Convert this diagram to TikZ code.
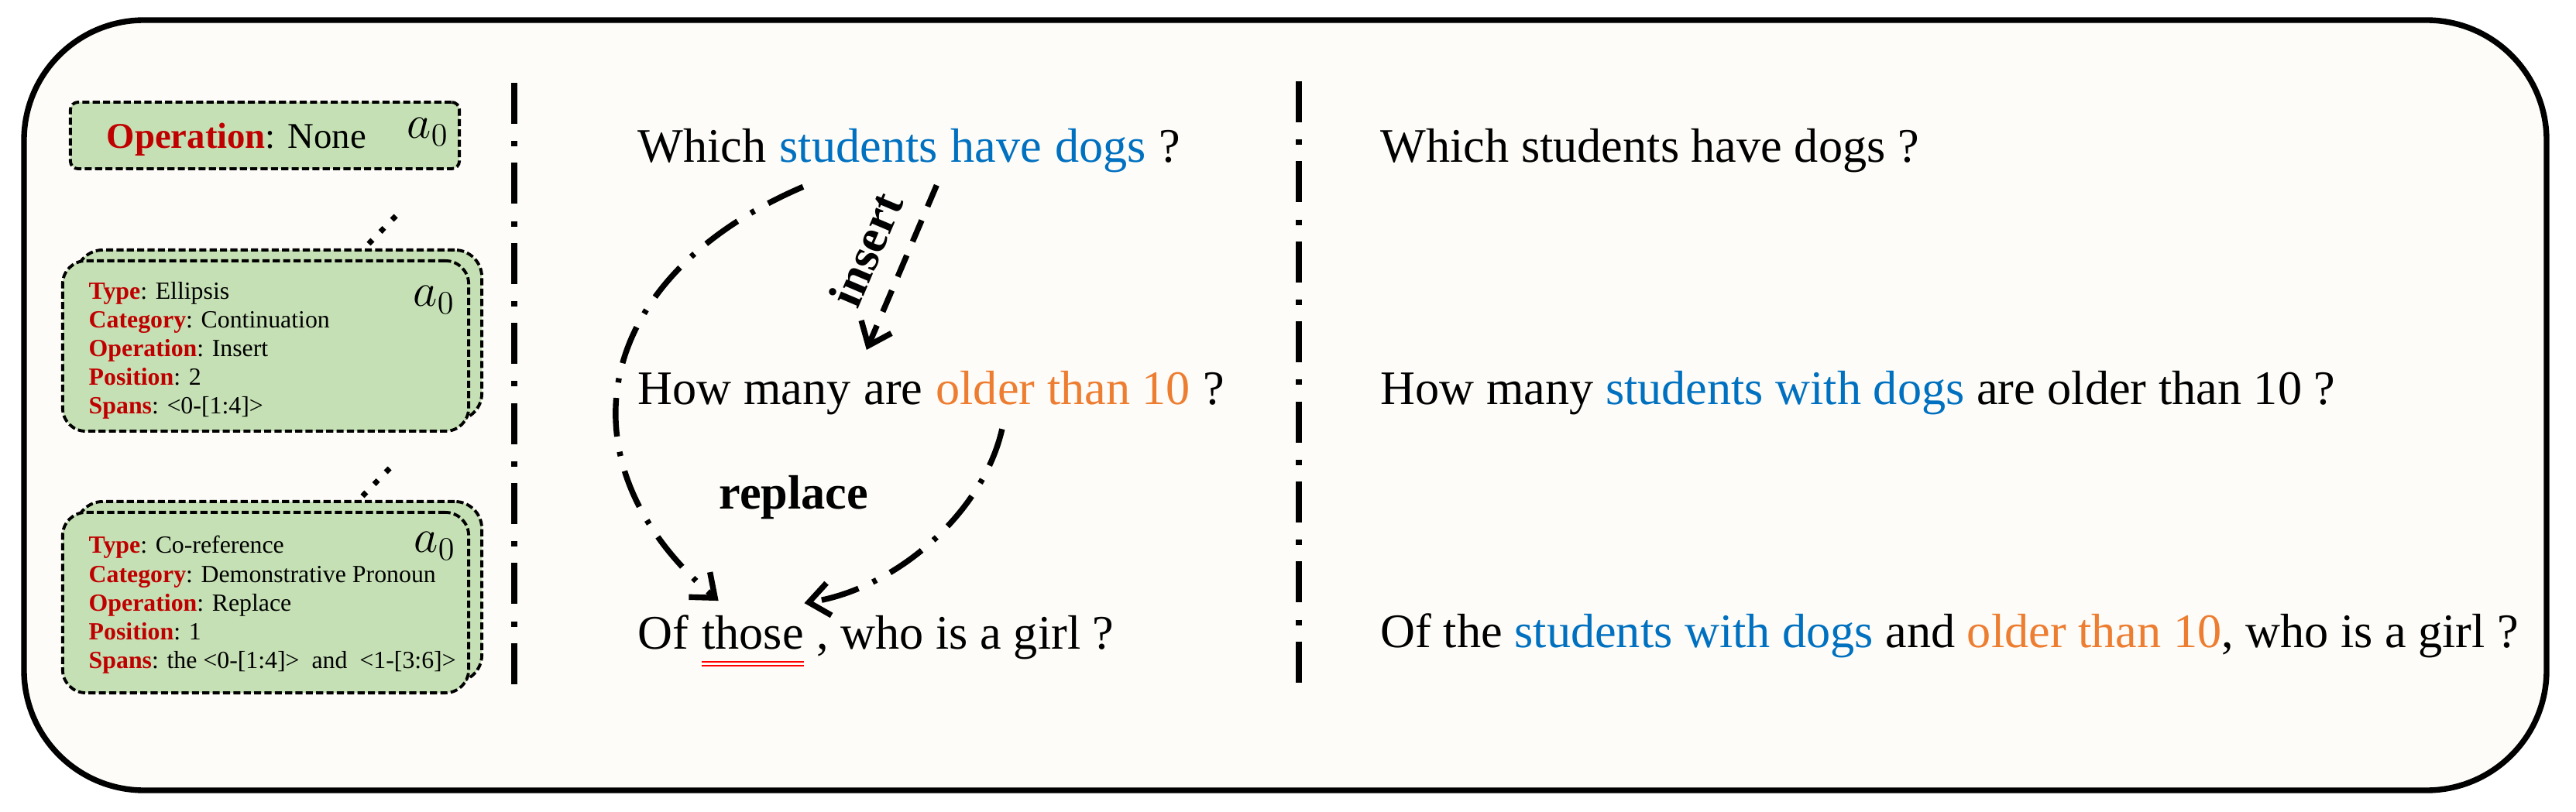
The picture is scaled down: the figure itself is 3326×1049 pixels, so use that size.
\documentclass[tikz,border=0pt]{standalone}
\usepackage{fontspec}
\setmainfont{Liberation Serif}
\usetikzlibrary{arrows.meta,calc}
\definecolor{frameBg}{RGB}{253,252,248}
\definecolor{boxGreen}{RGB}{197,224,180}
\definecolor{lblRed}{RGB}{192,0,0}
\definecolor{qBlue}{RGB}{0,112,192}
\definecolor{qOrange}{RGB}{237,125,49}
\newcommand{\lb}[1]{\textcolor{lblRed}{\textbf{#1}}}
\def\wg{4.43pt}
\begin{document}
\begin{tikzpicture}[x=0.01cm,y=-0.01cm,
  frame/.style={draw=black,line width=2.1pt,fill=frameBg,rounded corners=1.55cm},
  greenbox/.style={draw=black,fill=boxGreen,line width=1.1pt,dash pattern=on 2.6pt off 1.2pt,inner sep=0},
  sent/.style={inner sep=0,anchor=base west,font=\fontsize{17.7}{21}\selectfont},
  boldlbl/.style={inner sep=0,font=\fontsize{17.7}{21}\selectfont\bfseries},
  boxtxt/.style={inner sep=0,anchor=base west,font=\fontsize{9.05}{11}\selectfont},
  optxt/.style={inner sep=0,anchor=base west,font=\fontsize{13.3}{16}\selectfont},
  asym/.style={inner sep=0,anchor=base west,font=\fontsize{18.5}{21}\selectfont},
  sepline/.style={line width=2.3pt,dash pattern=on 15.1pt off 6.3pt on 2pt off 6pt},
  insarrow/.style={line width=2.1pt,dash pattern=on 8.5pt off 5.5pt,-{Straight Barb[length=7.5pt,width=12pt]}},
  rplarrow/.style={line width=2.1pt,dash pattern=on 14.2pt off 5.7pt on 1.6pt off 5.7pt,-{Straight Barb[length=7.5pt,width=12pt]}},
  dotlink/.style={line width=2pt,dash pattern=on 2pt off 4.15pt},
]
\useasboundingbox (0,0) rectangle (3326,1049);
\path[frame] (31,26) rectangle (3288,1021);

% ---- left column: action boxes
\node[greenbox,rounded corners=0.1cm,minimum width=5.02cm,minimum height=0.86cm] (b0) at (342,175) {};
\node[optxt] (b0t) at (137,192) {\lb{Operation}: None};
\node[asym] (b0a) at (525,179) {$a_0$};

\node[greenbox,rounded corners=0.35cm,minimum width=5.24cm,minimum height=2.2cm] (s1back) at (360,433) {};
\node[greenbox,rounded corners=0.3cm,minimum width=5.24cm,minimum height=2.2cm] (s1) at (343,447) {};
\node[boxtxt] (s1l1) at (114,387) {\lb{Type}: Ellipsis};
\node[boxtxt] (s1l2) at (114,424) {\lb{Category}: Continuation};
\node[boxtxt] (s1l3) at (114,461) {\lb{Operation}: Insert};
\node[boxtxt] (s1l4) at (114,498) {\lb{Position}: 2};
\node[boxtxt] (s1l5) at (114,535) {\lb{Spans}: <0-[1:4]>};
\node[asym] (s1a) at (533,396) {$a_0$};

\node[greenbox,rounded corners=0.35cm,minimum width=5.24cm,minimum height=2.33cm] (s2back) at (360,764.5) {};
\node[greenbox,rounded corners=0.3cm,minimum width=5.24cm,minimum height=2.33cm] (s2) at (343,778.5) {};
\node[boxtxt] (s2l1) at (114,715) {\lb{Type}: Co-reference};
\node[boxtxt] (s2l2) at (114,752) {\lb{Category}: Demonstrative Pronoun};
\node[boxtxt] (s2l3) at (114,789) {\lb{Operation}: Replace};
\node[boxtxt] (s2l4) at (114,826) {\lb{Position}: 1};
\node[boxtxt] (s2l5) at (114,863) {\lb{Spans}: the <0-[1:4]>\ \ and\ \ <1-[3:6]>};
\node[asym] (s2a) at (534,714) {$a_0$};

\coordinate (d1s) at (476,315);
\coordinate (d1e) at (513,277);
\draw[dotlink] (d1s) -- (d1e);
\coordinate (d2s) at (468,641);
\coordinate (d2e) at (506,602);
\draw[dotlink] (d2s) -- (d2e);

% ---- separators
\coordinate (sp1t) at (664,107);
\coordinate (sp1b) at (664,891);
\draw[sepline] (sp1t) -- (sp1b);
\coordinate (sp2t) at (1677,105);
\coordinate (sp2b) at (1677,891);
\draw[sepline] (sp2t) -- (sp2b);

% ---- middle column
\node[sent] (m1a) at (823,210) {Which};
\node[sent,text=qBlue] (stu) at ([xshift=\wg]m1a.base east) {students};
\node[sent,text=qBlue] (hav) at ([xshift=\wg]stu.base east) {have};
\node[sent,text=qBlue] (dog) at ([xshift=\wg]hav.base east) {dogs};
\node[sent] (m1q) at ([xshift=\wg]dog.base east) {?};

\node[sent] (how) at (823,523) {How many};
\node[sent] (are) at ([xshift=\wg]how.base east) {are};
\node[sent,text=qOrange] (old) at ([xshift=\wg]are.base east) {older than 10};
\node[sent] (m2q) at ([xshift=\wg]old.base east) {?};

\node[sent] (of) at (823,838) {Of};
\node[sent] (those) at ([xshift=\wg]of.base east) {those};
\node[sent] (m3r) at ([xshift=\wg]those.base east) {, who is a girl ?};

\draw[red,line width=0.6pt] ([shift={(0,17)}]those.base west) -- ([shift={(0,17)}]those.base east);
\draw[red,line width=0.6pt] ([shift={(0,22)}]those.base west) -- ([shift={(0,22)}]those.base east);

\draw[insarrow] ([shift={(-2,28)}]stu.south east) -- ([shift={(4,-41)}]are.north west);
\node[boldlbl,rotate=67] (ins) at (1118,322) {insert};

\draw[rplarrow] ([shift={(31,30)}]stu.south west) .. controls (760,360) and (720,600) .. ([shift={(22,-18)}]those.north west);
\draw[rplarrow] ([shift={(86,30)}]old.south west) .. controls (1270,660) and (1160,760) .. ([shift={(0,-15)}]those.north east);
\node[boldlbl,anchor=base west] (rpl) at (928,658) {replace};

% ---- right column
\node[sent] (r1) at (1782,210) {Which students have dogs ?};
\node[sent] (r2) at (1782,523) {How many \textcolor{qBlue}{students with dogs} are older than 10 ?};
\node[sent] (r3) at (1782,837) {Of the \textcolor{qBlue}{students with dogs} and \textcolor{qOrange}{older than 10}, who is a girl ?};
\end{tikzpicture}
\end{document}
